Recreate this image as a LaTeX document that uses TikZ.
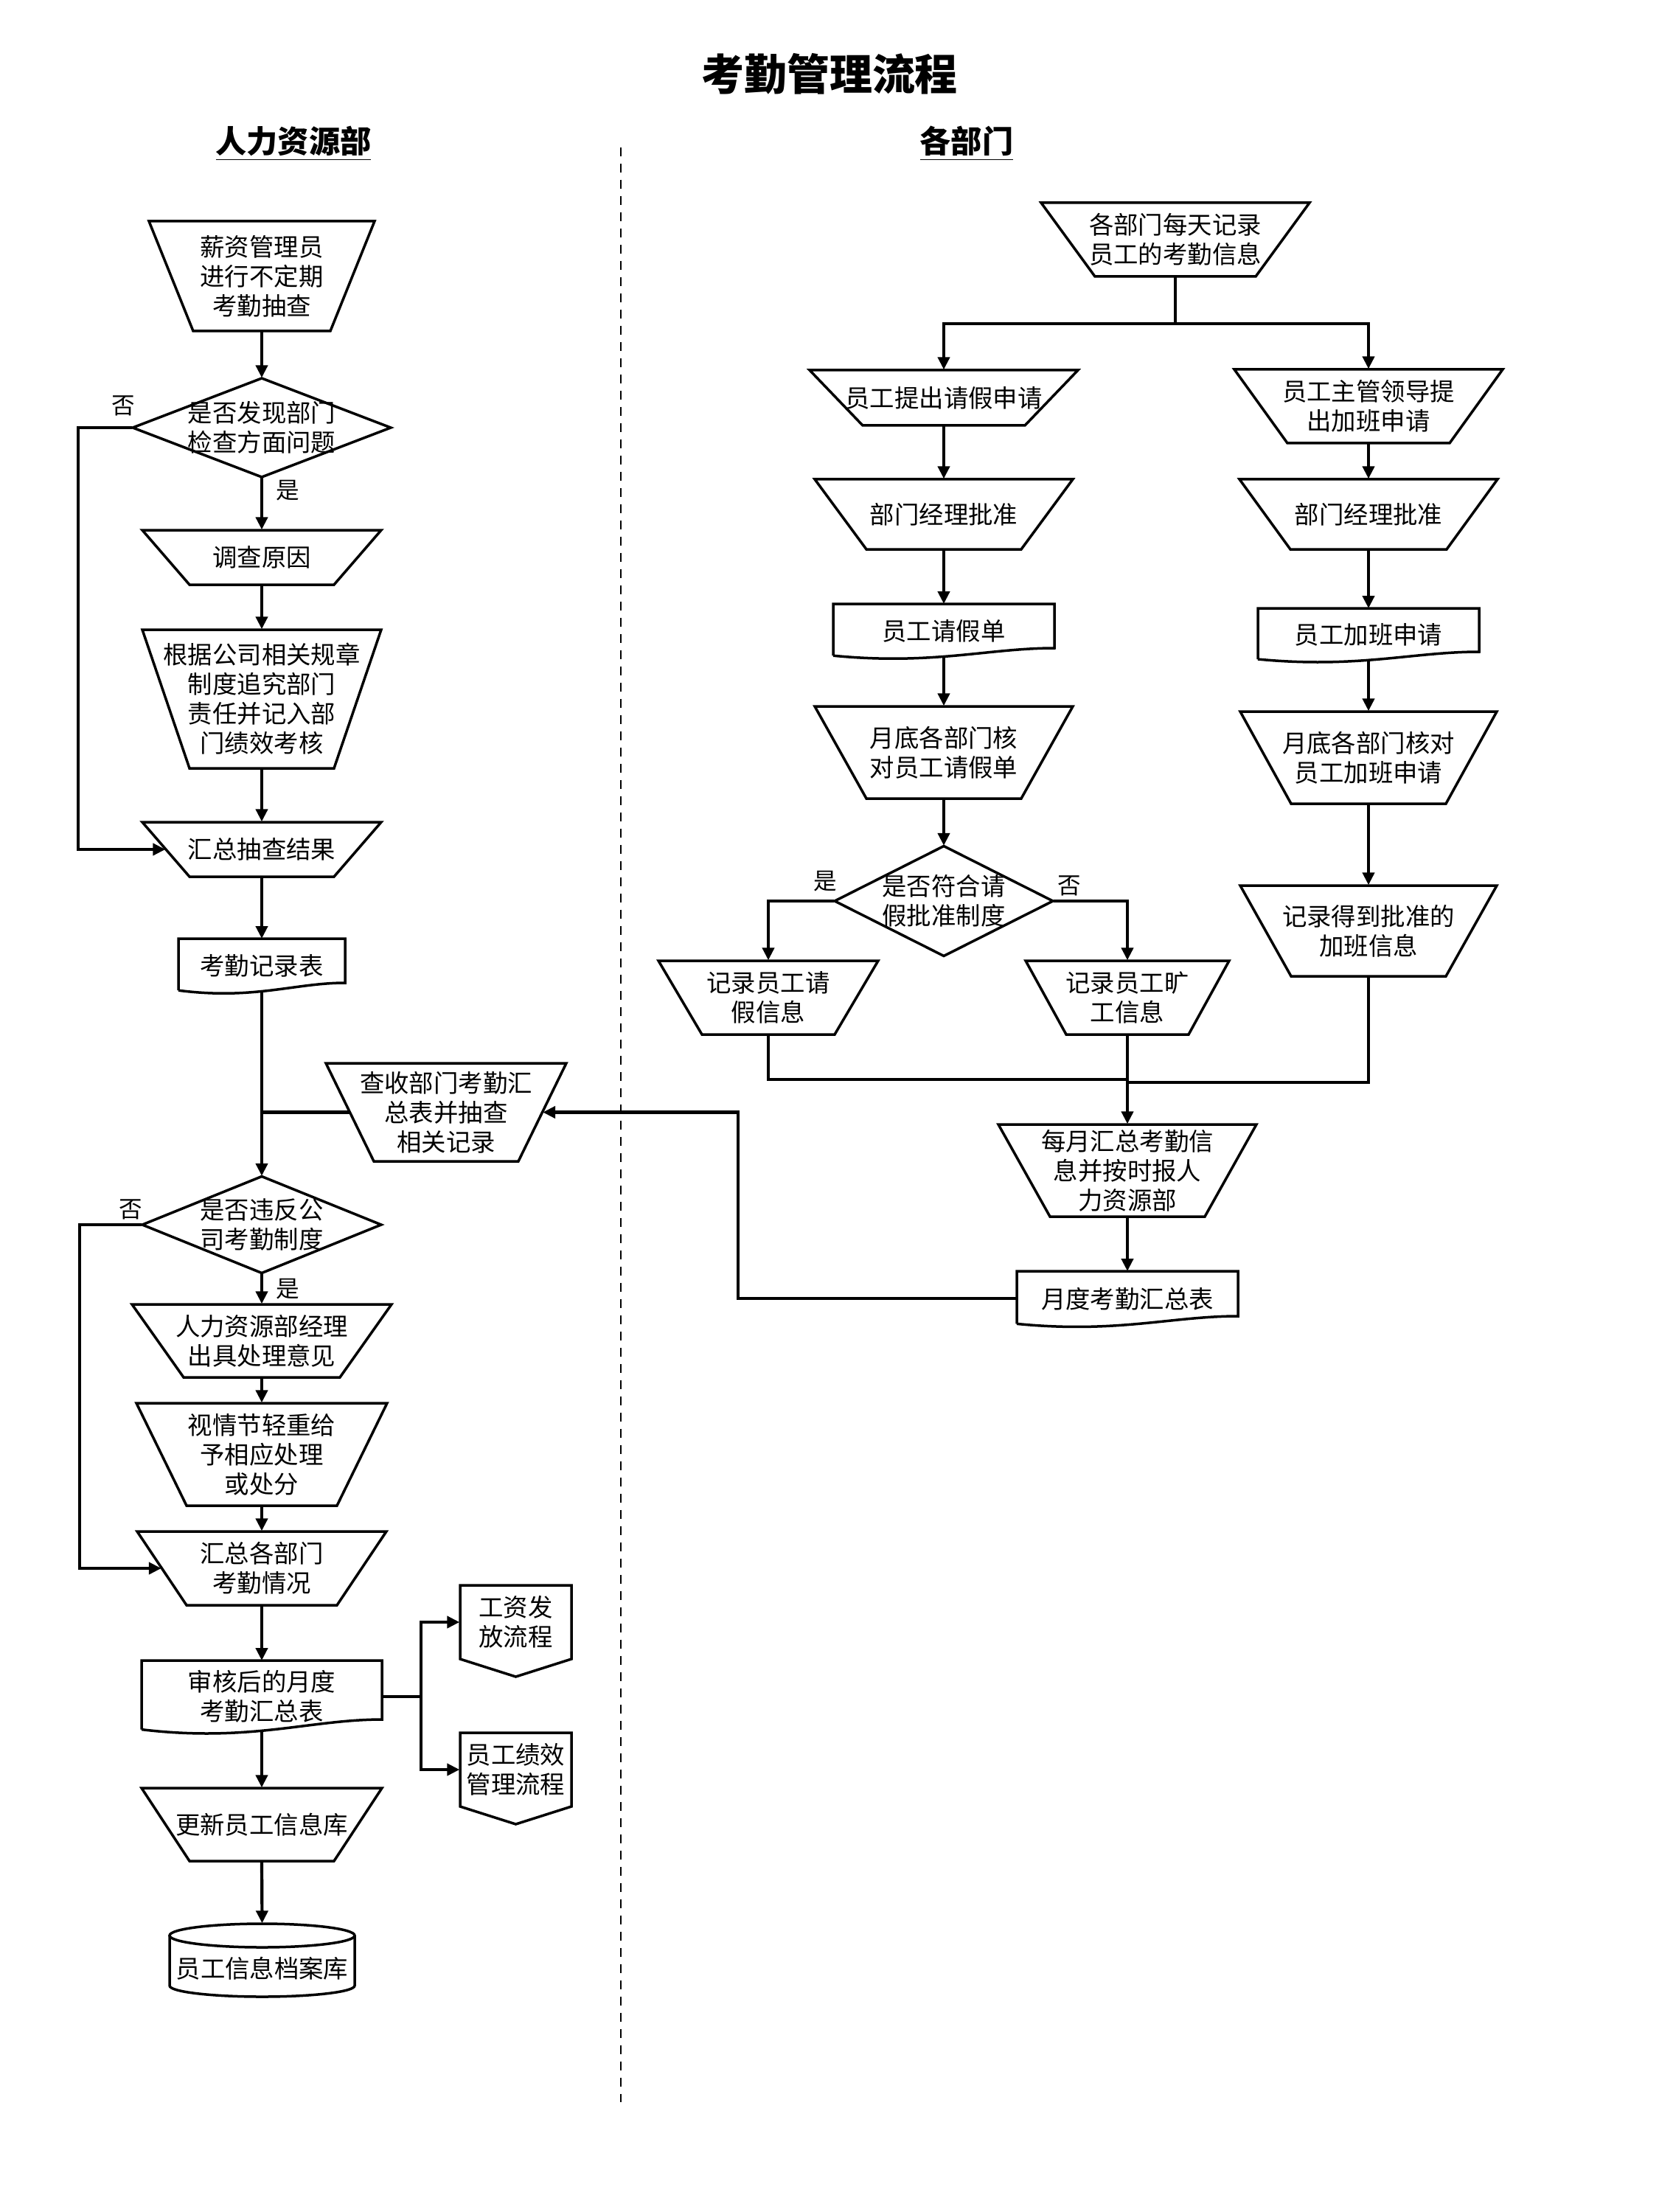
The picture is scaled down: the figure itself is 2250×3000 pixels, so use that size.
\documentclass[tikz,border=0pt]{standalone}
\usepackage{fontspec}
\setmainfont{Noto Sans CJK SC}
\usetikzlibrary{arrows.meta,calc}

% trapezoid (manual operation): name, cx, ytop, ybot, top half-width, bottom half-width, text
\newcommand{\trapbox}[7]{%
  \draw[shp] ({#2-#5},{#3}) -- ({#2+#5},{#3}) -- ({#2+#6},{#4}) -- ({#2-#6},{#4}) -- cycle;
  \node[lbl, minimum width={2*#5*0.1mm}, minimum height={(#4-#3)*0.1mm}] (#1) at ({#2},{(#3+#4)/2}) {#7};}
% decision: name, cx, cy, w, h, text
\newcommand{\decbox}[6]{%
  \draw[shp] ({#2},{#3-#5/2}) -- ({#2+#4/2},{#3}) -- ({#2},{#3+#5/2}) -- ({#2-#4/2},{#3}) -- cycle;
  \node[lbl, minimum width={#4*0.1mm}, minimum height={#5*0.1mm}] (#1) at ({#2},{#3}) {#6};}
% document: name, xL, xR, ytop, yright-bottom, text
\newcommand{\docbox}[6]{%
  \draw[shp] ({#2},{#5+0.17*(#5-#4)}) -- ({#2},{#4}) -- ({#3},{#4}) -- ({#3},{#5})
     .. controls ({#3-0.3*(#3-#2)},{#5}) and ({#2+0.45*(#3-#2)},{#5+0.39*(#5-#4)}) .. ({#2},{#5+0.17*(#5-#4)});
  \node[lbl, anchor=north, minimum width={(#3-#2)*0.1mm}, minimum height={1.2*(#5-#4)*0.1mm}] (#1) at ({(#2+#3)/2},{#4}) {#6};}
% off-page connector: name, xL, xR, ytop, yside, ypoint, text
\newcommand{\offbox}[7]{%
  \draw[shp] ({#2},{#4}) -- ({#3},{#4}) -- ({#3},{#5}) -- ({(#2+#3)/2},{#6}) -- ({#2},{#5}) -- cycle;
  \node[lbl, minimum width={(#3-#2)*0.1mm}, minimum height={(#5-#4)*0.1mm}] (#1) at ({(#2+#3)/2},{(#4+#5)/2}) {#7};}

\begin{document}
\begin{tikzpicture}[x=0.1mm, y=-0.1mm,
  shp/.style={line width=0.35mm, line join=miter},
  conn/.style={line width=0.42mm, -{Triangle[length=1.7mm,width=1.6mm]}},
  wire/.style={line width=0.42mm},
  lbl/.style={inner sep=0pt, align=center, font=\fontsize{9.5}{11.4}\selectfont},
  yn/.style={inner sep=0pt, font=\fontsize{9}{10}\selectfont}]
\useasboundingbox (0,0) rectangle (2250,3000);

% title and lane headers
\node[font=\fontsize{16.5}{20}\selectfont\bfseries] (title) at (1125,100) {考勤管理流程};
\node[font=\fontsize{12}{14}\selectfont\bfseries] (hr) at (398,195) {\underline{人力资源部}};
\node[font=\fontsize{12}{14}\selectfont\bfseries] (dept) at (1311,195) {\underline{各部门}};
\draw[line width=0.2mm, dash pattern=on 1.2mm off 1mm] (842,200) -- (842,2851);

% ---------- left lane ----------
\trapbox{a1}{355}{300}{449}{153}{93}{薪资管理员\\进行不定期\\考勤抽查}
\decbox{d1}{355}{580}{350}{134}{是否发现部门\\检查方面问题}
\trapbox{a2}{355}{719}{793}{162}{98}{调查原因}
\trapbox{a3}{355}{854}{1042}{162}{98}{根据公司相关规章\\制度追究部门\\责任并记入部\\门绩效考核}
\trapbox{a4}{355}{1115}{1189}{162}{98}{汇总抽查结果}
\docbox{a5}{242}{468}{1273}{1333}{考勤记录表}
\trapbox{a6}{605}{1442}{1575}{163}{98}{查收部门考勤汇\\总表并抽查\\相关记录}
\decbox{d2}{355}{1661}{324}{131}{是否违反公\\司考勤制度}
\trapbox{a7}{355}{1769}{1868}{176}{106}{人力资源部经理\\出具处理意见}
\trapbox{a8}{355}{1903}{2042}{170}{102}{视情节轻重给\\予相应处理\\或处分}
\trapbox{a9}{355}{2077}{2177}{169}{102}{汇总各部门\\考勤情况}
\docbox{a10}{192}{518}{2252}{2332}{审核后的月度\\考勤汇总表}
\offbox{o1}{624}{775}{2150}{2250}{2274}{工资发\\放流程}
\offbox{o2}{624}{775}{2350}{2450}{2474}{员工绩效\\管理流程}
\trapbox{a11}{355}{2425}{2524}{163}{98}{更新员工信息库}
% cylinder
\draw[shp] (355.5,2625) ellipse [x radius=125.5, y radius=16];
\draw[shp] (230,2625) -- (230,2693) .. controls (230,2701.3) and (286.2,2708) .. (355.5,2708)
  .. controls (424.8,2708) and (481,2701.3) .. (481,2693) -- (481,2625);
\node[lbl, minimum width=25.1mm, minimum height=12.2mm] (c1) at (355.5,2670) {员工信息档案库};

\node[yn] (n1) at (167,550) {否};
\node[yn] (y1) at (390,665) {是};
\node[yn] (n2) at (177,1640) {否};
\node[yn] (y2) at (390,1748) {是};

\draw[conn] (a1.south) -- (d1.north);
\draw[conn] (d1.south) -- (a2.north);
\draw[conn] (d1.west) -- ++(-73,0) |- ([xshift=3.2mm]a4.west);
\draw[conn] (a2.south) -- (a3.north);
\draw[conn] (a3.south) -- (a4.north);
\draw[conn] (a4.south) -- (a5.north);
\draw[conn] (a5.south) -- (d2.north);
\draw[wire] ([xshift=3.25mm]a6.west) -- (a6.west -| a5.south);
\draw[conn] (d2.south) -- (a7.north);
\draw[conn] (d2.west) -- ++(-84,0) |- ([xshift=3.35mm]a9.west);
\draw[conn] (a7.south) -- (a8.north);
\draw[conn] (a8.south) -- (a9.north);
\draw[conn] (a9.south) -- (a10.north);
\draw[conn] (a10.south) -- (a11.north);
\draw[conn] (a11.south) -- (c1.north);
\draw[wire] (a10.east) -- ++(52,0) coordinate (br);
\draw[conn] (br) |- (o1.west);
\draw[conn] (br) |- (o2.west);

% ---------- right lane ----------
\trapbox{b1}{1594}{275}{375}{182}{109}{各部门每天记录\\员工的考勤信息}
\trapbox{b2}{1280}{502}{577}{182}{110}{员工提出请假申请}
\trapbox{b3}{1856}{501}{601}{182}{110}{员工主管领导提\\出加班申请}
\trapbox{b4}{1280}{650}{745}{175}{105}{部门经理批准}
\trapbox{b5}{1856}{650}{745}{175}{106}{部门经理批准}
\docbox{b6}{1130}{1430}{819}{879}{员工请假单}
\docbox{b7}{1706}{2006}{825}{884}{员工加班申请}
\trapbox{b8}{1280}{958}{1083}{175}{105}{月底各部门核\\对员工请假单}
\trapbox{b9}{1856}{965}{1090}{174}{105}{月底各部门核对\\员工加班申请}
\decbox{d3}{1280}{1222}{296}{149}{是否符合请\\假批准制度}
\trapbox{b10}{1042}{1303}{1403}{149}{90}{记录员工请\\假信息}
\trapbox{b11}{1529}{1303}{1403}{138}{83}{记录员工旷\\工信息}
\trapbox{b12}{1856}{1201}{1324}{174}{105}{记录得到批准的\\加班信息}
\trapbox{b13}{1529}{1525}{1650}{175}{105}{每月汇总考勤信\\息并按时报人\\力资源部}
\docbox{b14}{1379}{1679}{1724}{1785}{月度考勤汇总表}

\node[yn] (y3) at (1119,1195) {是};
\node[yn] (n3) at (1450,1201) {否};

\draw[wire] (b1.south) -- ++(0,63) coordinate (rj);
\draw[conn] (rj) -| (b2.north);
\draw[conn] (rj) -| (b3.north);
\draw[conn] (b2.south) -- (b4.north);
\draw[conn] (b4.south) -- (b6.north);
\draw[conn] (b6.south) -- (b8.north);
\draw[conn] (b8.south) -- (d3.north);
\draw[conn] (b3.south) -- (b5.north);
\draw[conn] (b5.south) -- (b7.north);
\draw[conn] (b7.south) -- (b9.north);
\draw[conn] (b9.south) -- (b12.north);
\draw[conn] (d3.west) -| (b10.north);
\draw[conn] (d3.east) -| (b11.north);
\draw[wire] (b10.south) -- ++(0,60) coordinate (m1) -- (m1 -| b11.south);
\draw[wire] (b12.south) -- ++(0,143) coordinate (m2) -- (m2 -| b11.south);
\draw[conn] (b11.south) -- (b13.north);
\draw[conn] (b13.south) -- (b14.north);
\draw[conn] (b14.west) -- ++(-377,0) |- ([xshift=-3.25mm]a6.east);
\end{tikzpicture}
\end{document}
